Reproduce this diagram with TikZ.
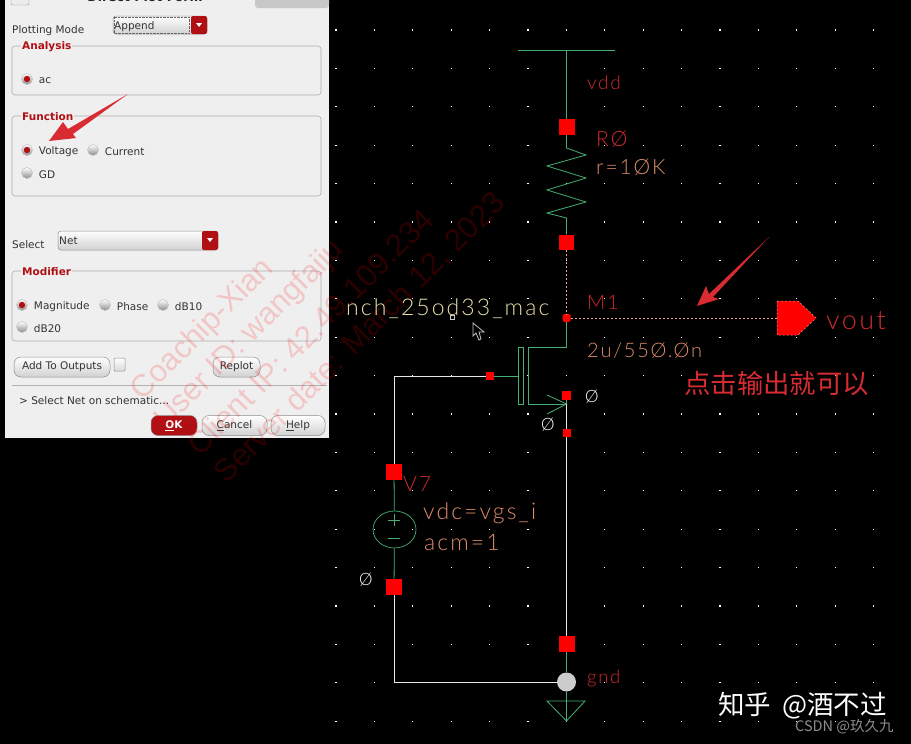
\documentclass[tikz,border=0pt]{standalone}
\usepackage{fontspec}
\setmainfont{DejaVu Sans}
\newfontfamily\schfont[LetterSpace=9]{Lato Light}
\newfontfamily\cjkfont{Noto Sans CJK SC}
\newfontfamily\markfont{Liberation Sans}
\usetikzlibrary{positioning,shapes.geometric}
\definecolor{panelgray}{HTML}{EFEFEF}
\definecolor{wiregreen}{HTML}{45B072}
\definecolor{wirewhite}{HTML}{E8E8E8}
\definecolor{pinred}{HTML}{FF0000}
\definecolor{buttonred}{HTML}{B00F14}
\definecolor{labelred}{HTML}{D0282E}
\definecolor{attrred}{HTML}{CC2A30}
\definecolor{attrtan}{HTML}{DB8A68}
\definecolor{modelpale}{HTML}{E6DFA8}
\definecolor{pathdash}{HTML}{F0A090}
\definecolor{notered}{HTML}{D92B32}
\newcommand{\fs}[1]{\fontsize{#1}{#1}\selectfont}
\tikzset{
  pinbox/.style={fill=pinred,inner sep=0pt,minimum size=#1},
  wiregrn/.style={draw=wiregreen,line width=.8pt},
  wirewht/.style={draw=wirewhite,line width=.8pt},
  netdash/.style={draw=pathdash,line width=.7pt,dash pattern=on 2pt off 2pt},
  schtext/.style={inner sep=0pt,anchor=west,yshift=-1pt,font=\schfont\fs{#1}},
  guitext/.style={inner sep=0pt,anchor=west,yshift=-1.5pt,text=black!80,font=\fs{10.5}},
  grouptitle/.style={inner sep=1pt,anchor=west,yshift=-1pt,fill=panelgray,text=buttonred,font=\bfseries\fs{10.5}},
  groupbox/.style={draw=black!33,rounded corners=3pt,line width=.6pt},
  radiobtn/.style={circle,draw=black!25,line width=.5pt,top color=white,bottom color=black!45,inner sep=0pt,minimum size=11pt},
  radioon/.style={radiobtn,path picture={\fill[buttonred] (path picture bounding box.center) circle (3.2pt);}},
  pushbtn/.style={draw=black!45,rounded corners=7pt,top color=white,bottom color=black!18,line width=.5pt,
    text=black!80,font=\fs{10.5},inner sep=0pt,minimum height=20pt},
  combobox/.style={draw=black!45,rounded corners=3pt,top color=white,bottom color=black!18,line width=.5pt},
  markline/.style={inner sep=0pt,rotate=45,text=red,opacity=.17,font=\markfont\fs{31}},
  notearrow/.style={fill=notered,draw=none}
}
\begin{document}
\begin{tikzpicture}[x=1pt,y=-1pt]
\useasboundingbox (0,0) rectangle (911,744);
\fill[black] (0,0) rectangle (911,744);
\foreach \gx in {0,...,15} \foreach \gy in {0,...,18}
  \fill[white] (336+38.4*\gx-.6,30+38.4*\gy-.6) rectangle ++(1.2,1.2);

% form panel
\fill[panelgray] (5,0) rectangle (329,438);
\begin{scope}
\clip (0,0) rectangle (911,744);
\fill[black!22,rounded corners=3pt] (255,-8) rectangle (329,8);
\draw[black!40,fill=black!8,rounded corners=1pt] (11,-6) rectangle (29,5);
\node[inner sep=0pt,text=black!85,font=\bfseries\fs{12.5}] (formtitle) at (145,-3) {Direct Plot Form};
\end{scope}
\node[guitext] (modelabel) at (12,29) {Plotting Mode};
\draw[combobox] (113,16) rectangle (207,34);
\fill[buttonred,rounded corners=2pt] (191,16) rectangle (207,34);
\fill[white] (196,23) -- (202,23) -- (199,27) -- cycle;
\draw[black!60,densely dotted,line width=.4pt] (114,17) rectangle (189,33);
\node[guitext] (modetext) at (114,25) {Append};

\draw[groupbox] (12,46) rectangle (321,95);
\node[grouptitle] (analysistitle) at (21,46) {Analysis};
\node[radioon] (acradio) at (27,79) {};
\node[guitext,right=6pt of acradio] (actext) {ac};

\draw[groupbox] (12,116) rectangle (321,196);
\node[grouptitle] (functiontitle) at (21,116) {Function};
\node[radioon] (voltradio) at (27,150) {};
\node[guitext,right=6pt of voltradio] (volttext) {Voltage};
\node[radiobtn] (currradio) at (93,150) {};
\node[guitext,right=6pt of currradio] (currtext) {Current};
\node[radiobtn] (gdradio) at (27,173) {};
\node[guitext,right=6pt of gdradio] (gdtext) {GD};

\node[guitext] (selectlabel) at (12,243) {Select};
\draw[combobox] (58,231) rectangle (218,250);
\fill[buttonred,rounded corners=2pt] (202,231) rectangle (218,250);
\fill[white] (207,238) -- (213,238) -- (210,242) -- cycle;
\node[guitext] (selecttext) at (59,239) {Net};

\draw[groupbox] (12,271) rectangle (321,341);
\node[grouptitle] (modifiertitle) at (21,271) {Modifier};
\node[radioon] (magradio) at (22,305) {};
\node[guitext,right=6pt of magradio] (magtext) {Magnitude};
\node[radiobtn] (phaseradio) at (105,305) {};
\node[guitext,right=6pt of phaseradio] (phasetext) {Phase};
\node[radiobtn] (dbtenradio) at (163,305) {};
\node[guitext,right=6pt of dbtenradio] (dbtentext) {dB10};
\node[radiobtn] (dbtwentyradio) at (22,327) {};
\node[guitext,right=6pt of dbtwentyradio] (dbtwentytext) {dB20};

\node[pushbtn,minimum width=96pt] (addbtn) at (62,367) {Add To Outputs};
\draw[black!45,top color=white,bottom color=black!15,rounded corners=1pt,line width=.5pt] (114,358) rectangle (125,371);
\node[pushbtn,minimum width=47pt] (replotbtn) at (236.5,367) {Replot};
\draw[black!30,line width=.6pt] (12,385) -- (327,385);
\node[guitext] (statustext) at (19,399) {> Select Net on schematic...};
\node[pushbtn,minimum width=46pt,top color=buttonred,bottom color=buttonred,text=white,font=\bfseries\fs{10.5}] (okbtn) at (174,425.5) {\underline{O}K};
\node[pushbtn,minimum width=65pt] (cancelbtn) at (234.5,425.5) {\underline{C}ancel};
\node[pushbtn,minimum width=54pt] (helpbtn) at (298,425.5) {\underline{H}elp};

% watermark
\node[markline] (markone) at (203,330) {Coachip-Xian};
\node[markline] (marktwo) at (250,335) {User ID: wangfaiju};
\node[markline] (markthree) at (310,332) {Client IP: 42.49.109.234};
\node[markline] (markfour) at (360,338) {Server date: March 12, 2023};

\fill[notearrow] (49,141) -- (63,122) -- (68,129) -- (128,94) -- (73,134) -- (76,138) -- cycle;

% pins
\node[pinbox=16pt] (vddpin) at (566.5,127) {};
\node[pinbox=15pt] (restop) at (566.5,242) {};
\node[pinbox=8pt,rounded corners=1.5pt] (outjoin) at (566.5,318) {};
\node[pinbox=8pt] (gatepin) at (490,376) {};
\node[pinbox=9pt] (bulkpin) at (566.5,395) {};
\node[pinbox=8pt] (srcpin) at (566.5,433) {};
\node[pinbox=16pt] (vsrctop) at (394,472) {};
\node[pinbox=16pt] (vsrcbot) at (394,587) {};
\node[pinbox=16pt] (gndpin) at (566.5,644) {};
\node[circle,fill=black!20,inner sep=0pt,minimum size=19pt] (gndjoin) at (566.5,682) {};
\coordinate (vddbarl) at (518,50);
\coordinate (vddbarr) at (615,50);
\coordinate (vddmid) at (566.5,50);
\coordinate (srcnode) at (566.5,404);
\coordinate (draincorner) at (566.5,347);
\coordinate (gatewire) at (518,376);
\coordinate (gatecorner) at (394,376);
\coordinate (gndcorner) at (394,682);
\coordinate (gndtip) at (566.5,721);

% resistor and vdd
\draw[wiregrn] (vddbarl) -- (vddbarr);
\draw[wiregrn] (vddmid) -- (vddpin);
\draw[wiregrn] (vddpin) -- (566.5,148) -- (586,155) -- (547,166) -- (586,178) -- (547,190) -- (586,202) -- (547,213) -- (566.5,218) -- (restop);
\draw[netdash] (restop) -- (outjoin);

% mosfet
\draw[wiregrn] (518,347) rectangle (523,404);
\draw[wiregrn] (528,347) -- (528,404);
\draw[wiregrn] (outjoin) -- (draincorner) -- (528,347);
\draw[wiregrn] (528,404) -- (srcnode);
\draw[wiregrn] (547,395) -- (srcnode) -- (547,414);
\draw[wiregrn] (gatewire) -- (gatepin);
\draw[wirewht] (gatepin) -- (gatecorner) -- (vsrctop);
\draw[wiregrn] (srcnode) -- (bulkpin);
\draw[wirewht] (srcnode) -- (srcpin) -- (gndpin);
\draw[wiregrn] (gndpin) -- (gndjoin);

% source
\node[draw=wiregreen,ellipse,inner sep=0pt,minimum width=43pt,minimum height=37pt,line width=.7pt] (vsrc) at (394.5,529.5) {};
\draw[wiregrn] (vsrctop) -- (vsrc);
\draw[wiregrn] (vsrc) -- (vsrcbot);
\draw[wiregrn,line width=.6pt] (388,520) -- (400,520) (394,514) -- (394,526) (388,538) -- (400,538);
\draw[wirewht] (vsrcbot) -- (gndcorner) -- (gndjoin);

% ground
\draw[wiregrn] (gndjoin) -- (gndtip);
\draw[wiregrn] (547,701) -- (585,701) -- (gndtip) -- cycle;

% output
\draw[netdash] (outjoin) -- (777,318);
\draw[fill=pinred,draw=pathdash,line width=.5pt,dash pattern=on 2pt off 2pt] (777,301) -- (798,301) -- (816,318) -- (798,335) -- (777,335) -- cycle;

% labels
\node[schtext=19,text=attrred] (vddtext) at (587,82) {vdd};
\node[schtext=21,text=attrred] (rname) at (596,138) {RØ};
\node[schtext=21,text=attrtan] (rvalue) at (596,166) {r=1ØK};
\node[schtext=20,text=labelred] (mname) at (587,301) {M1};
\node[schtext=20,text=attrtan] (msize) at (587,350) {2u/55Ø.Øn};
\node[schtext=23,text=modelpale] (mmodel) at (346,308) {nch\_25od33\_mac};
\node[schtext=17,text=white] (bulknet) at (585,396) {Ø};
\node[schtext=17,text=white] (srcnet) at (541,424) {Ø};
\node[schtext=21,text=attrred] (vname) at (403,483) {V7};
\node[schtext=23,text=attrtan] (vdctext) at (423,512) {vdc=vgs\_i};
\node[schtext=23,text=attrtan] (acmtext) at (424,541) {acm=1};
\node[schtext=17,text=white] (vnet) at (359,579) {Ø};
\node[schtext=18.5,text=attrred] (gndtext) at (587,677) {gnd};
\node[schtext=27,text=attrred] (vouttext) at (826,320) {vout};

% cursor and marker
\draw[white!80!black,line width=.4pt] (450,315) rectangle (454,319);
\draw[black!25,line width=.8pt] (473,323) -- (473,336) -- (476,333) -- (479,340) -- (481,339) -- (479,332) -- (484,332) -- cycle;

% notes
\fill[notearrow] (697,306) -- (706,286) -- (709,294) -- (769,237) -- (713,297) -- (719,299) -- cycle;
\node[inner sep=0pt,anchor=west,text=notered,font=\cjkfont\fs{26.4}] (clicknote) at (684,384) {点击输出就可以};
\node[inner sep=0pt,anchor=west,text=white,font=\cjkfont\fs{26.5}] (zhihumark) at (718,706) {知乎 \hspace{5pt}@酒不过};
\node[inner sep=0pt,anchor=west,text=black!45,font=\cjkfont\fs{14.5}] (csdnmark) at (795,727) {CSDN @玖久九};
\end{tikzpicture}
\end{document}
